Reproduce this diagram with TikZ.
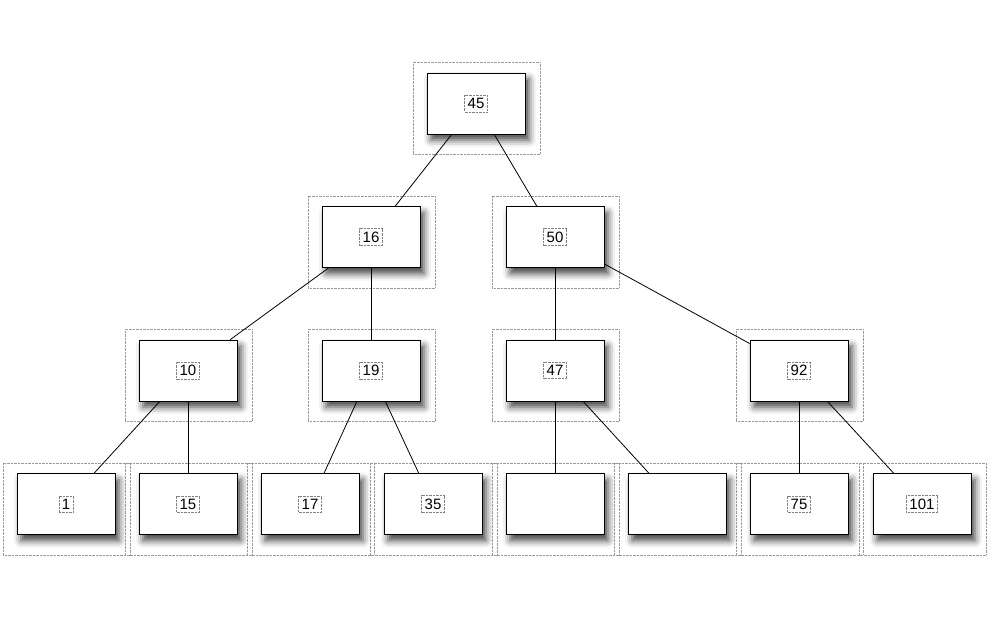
\documentclass[tikz,border=0pt]{standalone}
\usepackage{fontspec}
\setmainfont{Liberation Sans}
\usetikzlibrary{shadows.blur}
\begin{document}
\begin{tikzpicture}[x=1pt,y=-1pt,
  tnode/.style={draw=black,thick,fill=white,minimum width=98pt,minimum height=61pt,inner sep=0pt,
    blur shadow={shadow xshift=4pt,shadow yshift=-6pt,shadow blur radius=7pt,shadow opacity=75}},
  lab/.style={draw=gray,densely dotted,inner sep=3pt,font=\fontsize{15}{17}\selectfont},
  outer/.style={draw=gray!80,densely dotted,thin},
  edge/.style={draw=black,line width=0.8pt}]
\useasboundingbox (0,0) rectangle (994,617);
\newcommand{\tn}[4]{%
  \draw[outer] (#2-63,#3-41) rectangle (#2+64,#3+51);
  \node[tnode] (#1) at (#2,#3) {};
  \if\relax\detokenize{#4}\relax\else\node[lab] at (#1) {#4};\fi}
\tn{n45}{476}{103.5}{45}
\tn{n16}{371}{237}{16}
\tn{n50}{555}{237}{50}
\tn{n10}{188}{370.5}{10}
\tn{n19}{371}{370.5}{19}
\tn{n47}{555}{370.5}{47}
\tn{n92}{799}{370.5}{92}
\tn{n1}{66}{504}{1}
\tn{n15}{188}{504}{15}
\tn{n17}{310}{504}{17}
\tn{n35}{433}{504}{35}
\tn{nA}{555}{504}{}
\tn{nB}{677}{504}{}
\tn{n75}{799}{504}{75}
\tn{n101}{922}{504}{101}
\draw[edge] (n45) -- (n16);
\draw[edge] (n45) -- (n50);
\draw[edge] (n16) -- (n10);
\draw[edge] (n16) -- (n19);
\draw[edge] (n50) -- (n47);
\draw[edge] (n50) -- (n92);
\draw[edge] (n10) -- (n1);
\draw[edge] (n10) -- (n15);
\draw[edge] (n19) -- (n17);
\draw[edge] (n19) -- (n35);
\draw[edge] (n47) -- (nA);
\draw[edge] (n47) -- (nB);
\draw[edge] (n92) -- (n75);
\draw[edge] (n92) -- (n101);
\end{tikzpicture}
\end{document}
